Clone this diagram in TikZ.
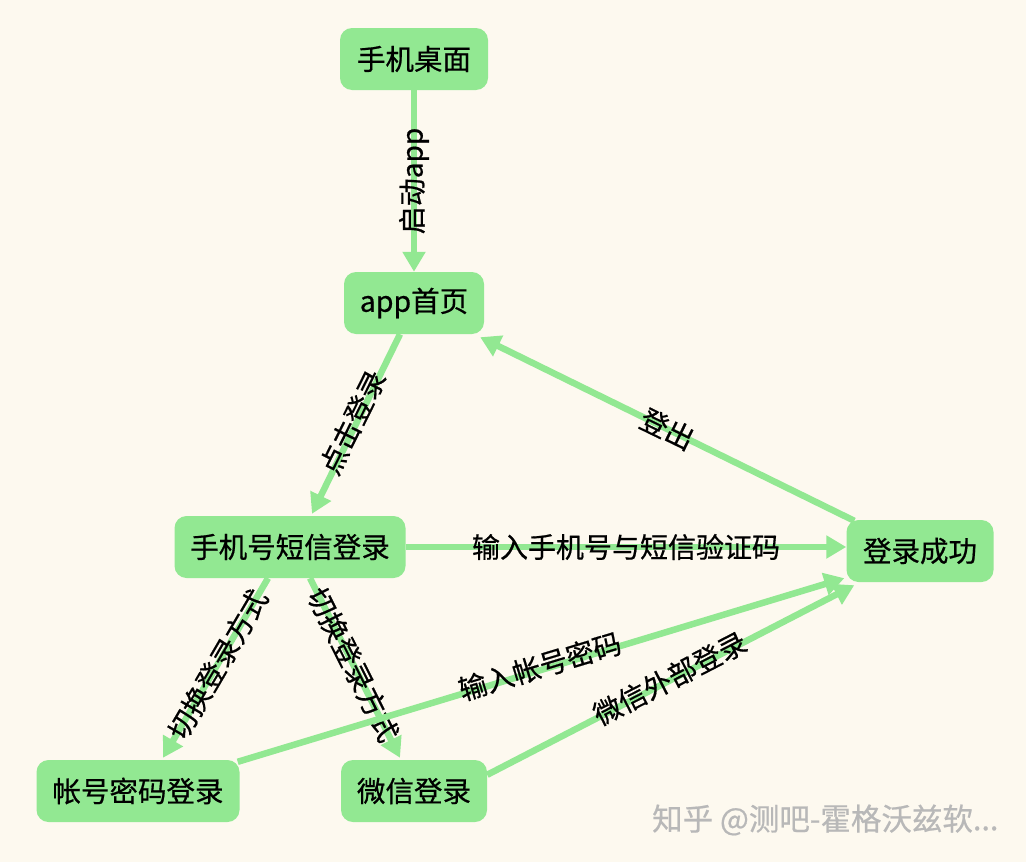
\documentclass[tikz,border=0pt]{standalone}
\usepackage{fontspec}
\setmainfont{Noto Sans CJK SC}[FakeBold=0.6]
\usetikzlibrary{arrows.meta}
\definecolor{bgc}{HTML}{FDF9EF}
\definecolor{ngreen}{HTML}{92E892}
\definecolor{egreen}{HTML}{92E892}
\tikzset{
  box/.style={rectangle, rounded corners=12pt, fill=ngreen, draw=none,
    minimum height=62pt, inner xsep=15pt, font=\fontsize{28.5}{31}\selectfont, text=black},
  conn/.style={draw=egreen, line width=6.5pt,
    -{Triangle[length=20pt,width=22pt]}, shorten >=0pt},
  lbl/.style={font=\fontsize{28}{30}\selectfont, text=black, inner sep=0pt},
}
\begin{document}
\begin{tikzpicture}[x=1pt,y=-1pt]
\fill[bgc] (0,0) rectangle (1026,862);
\useasboundingbox (0,0) rectangle (1026,862);

\node[box, minimum width=148pt] (desk) at (414,59) {手机桌面};
\node[box, minimum width=140pt] (app) at (414,303) {app首页};
\node[box, minimum width=231pt] (sms) at (290,547) {手机号短信登录};
\node[box, minimum width=147pt] (ok) at (920,551) {登录成功};
\node[box, minimum width=203pt] (acct) at (138,791) {帐号密码登录};
\node[box, minimum width=146pt] (wx) at (414,791) {微信登录};

\draw[conn] (desk.south) -- (app.north)
  node[lbl, pos=0.5, rotate=90] (l1) {启动app};
\draw[conn] ([xshift=-14pt]app.south) -- ([xshift=22pt,yshift=2pt]sms.north)
  node[lbl, pos=0.5, rotate=63.7, yshift=4pt] (l2) {点击登录};
\draw[conn] ([xshift=8pt,yshift=-1pt]ok.north west) -- ([xshift=-4pt,yshift=-3pt]app.south east)
  node[lbl, pos=0.5, rotate=-26] (l3) {登出};
\draw[conn] (sms.east) -- (sms.east -| ok.west)
  node[lbl, pos=0.5] (l4) {输入手机号与短信验证码};
\draw[conn] ([xshift=-22pt]sms.south) -- ([xshift=25pt,yshift=2pt]acct.north)
  node[lbl, pos=0.48, rotate=59.7] (l5) {切换登录方式};
\draw[conn] ([xshift=20pt]sms.south) -- ([xshift=-14pt,yshift=2pt]wx.north)
  node[lbl, pos=0.48, rotate=-63.4] (l6) {切换登录方式};
\draw[conn] ([xshift=-2pt,yshift=-2pt]acct.north east) -- ([xshift=-2pt,yshift=4pt]ok.south west)
  node[lbl, pos=0.5, rotate=16.9, yshift=4pt] (l7) {输入帐号密码};
\draw[conn] ([yshift=-15pt]wx.north east) -- ([xshift=8pt,yshift=-3pt]ok.south west)
  node[lbl, pos=0.5, rotate=27.3, yshift=2pt] (l8) {微信外部登录};

\node[anchor=west, font=\fontsize{30.5}{32}\selectfont, text=black!28, inner sep=0pt] (wm) at (652,820) {知乎 @测吧-霍格沃兹软...};
\end{tikzpicture}
\end{document}
